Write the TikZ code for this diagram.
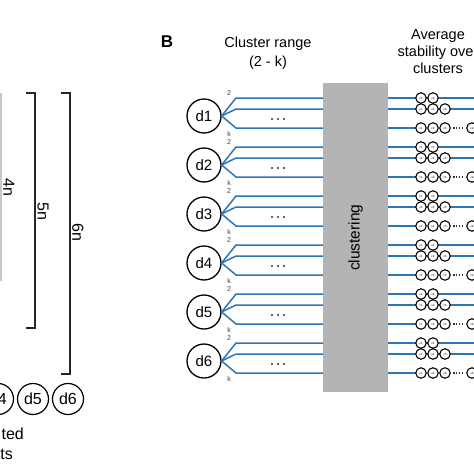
\documentclass[tikz,border=0pt]{standalone}
\usepackage{fontspec}
\setmainfont{Liberation Sans}
\definecolor{lineblue}{RGB}{46,117,182}
\definecolor{boxgray}{RGB}{180,180,180}
\definecolor{bargray}{RGB}{200,200,200}
\begin{document}
\begin{tikzpicture}[x=1pt,y=-1pt,
  dcirc/.style={circle,draw=black,line width=1.3pt,minimum size=34pt,inner sep=0pt,font=\fontsize{15}{17}\selectfont},
  acirc/.style={circle,draw=black,line width=1.2pt,minimum size=31pt,inner sep=0pt,font=\fontsize{16}{19}\selectfont},
  bl/.style={draw=lineblue,line width=1.5pt},
  sm/.style={circle,draw=black,fill=white,line width=1.1pt,minimum size=10.5pt,inner sep=0pt,font=\fontsize{3}{3}\selectfont},
  brk/.style={draw=black!85,line width=1.3pt},
  lab/.style={font=\fontsize{14.5}{18.5}\selectfont,align=center,inner sep=0pt},
  rlab/.style={font=\fontsize{16}{19}\selectfont,rotate=-90,inner sep=0pt},
  tinylab/.style={font=\fontsize{7}{7}\selectfont,inner sep=0pt,text=black!75},
  dotmark/.style={circle,fill=black!80,inner sep=0pt,minimum size=2.2pt}
]
\useasboundingbox (0,0) rectangle (474,474);
\clip (0,0) rectangle (474,474);

% ---------- left panel (cut off) ----------
\fill[bargray] (0,93) rectangle (2,281);
\node[rlab] (n4) at (9,187) {4n};
\draw[brk] (26,93) -- (35,93) -- (35,328) -- (26,328);
\node[rlab] (n5) at (43,211) {5n};
\draw[brk] (61,93) -- (70,93) -- (70,374) -- (61,374);
\node[rlab] (n6) at (78,232) {6n};
\node[acirc] (a4) at (-2,399) {d4};
\node[acirc] (a5) at (33,399) {d5};
\node[acirc] (a6) at (68,399) {d6};
\node[font=\fontsize{16}{20}\selectfont,inner sep=0pt,anchor=east] (t1) at (24,434) {ted};
\node[font=\fontsize{16}{20}\selectfont,inner sep=0pt,anchor=east] (t2) at (13,454) {ts};

% ---------- panel B ----------
\node[font=\fontsize{17}{20}\selectfont\bfseries,inner sep=0pt] (B) at (167,42) {B};
\node[lab] (crange) at (268,53) {Cluster range\\(2 - k)};
\node[lab,font=\fontsize{14.5}{17}\selectfont] (avg) at (438,52) {Average\\stability over\\clusters};

\node[fill=boxgray,minimum width=65pt,minimum height=309pt,inner sep=0pt,anchor=north west] (clus) at (323,83) {};
\node[font=\fontsize{15.5}{18}\selectfont,rotate=90,inner sep=0pt] (cl) at (clus.center) {clustering};

\foreach \i in {1,...,6} {
  \pgfmathsetmacro\t{98+49*(\i-1)}
  \pgfmathsetmacro\tb{\t+11}
  \pgfmathsetmacro\tc{\t+30}
  \node[dcirc] (d\i) at (204,\t+18) {d\i};
  \coordinate (ya\i) at (0,\t);
  \coordinate (yb\i) at (0,\tb);
  \coordinate (yc\i) at (0,\tc);
  \coordinate (ea\i) at (474,\t);
  \coordinate (eb\i) at (474,\tb);
  \coordinate (ec\i) at (421,\tc);
  \draw[bl] (d\i.east) -- (236,\t) -- (clus.west |- ya\i);
  \draw[bl] (d\i.east) -- (236,\tb) -- (clus.west |- yb\i);
  \draw[bl] (d\i.east) -- (236,\tc) -- (clus.west |- yc\i);
  \node[tinylab] (two\i) at (229,\t-5) {2};
  \node[tinylab] (k\i) at (229,\tc+6) {k};
  \node[dotmark] (da\i) at (272,\t+21) {};
  \node[dotmark] (db\i) at (278,\t+21) {};
  \node[dotmark] (dc\i) at (284,\t+21) {};
  % right side
  \draw[bl] (clus.east |- ya\i) -- (ea\i);
  \draw[bl] (clus.east |- yb\i) -- (eb\i);
  \draw[bl] (clus.east |- yc\i) -- (ec\i);
  \node[sm] (p\i a1) at (421,\t) {c1};
  \node[sm] (p\i a2) at (433,\t) {c2};
  \node[sm] (p\i b1) at (421,\tb) {c1};
  \node[sm] (p\i b2) at (433,\tb) {c2};
  \node[sm] (p\i b3) at (445,\tb) {c3};
  \node[sm] (p\i c1) at (421,\tc) {c1};
  \node[sm] (p\i c2) at (433,\tc) {c2};
  \node[sm] (p\i c3) at (445,\tc) {c3};
  \node[sm] (p\i ck) at (472,\tc) {ck};
  \draw[black!80,line width=1.2pt,dash pattern=on 1.2pt off 1.6pt] (p\i c3.east) ++(2.5,0) -- ([xshift=-2.5pt]p\i ck.west);
}
\end{tikzpicture}
\end{document}
